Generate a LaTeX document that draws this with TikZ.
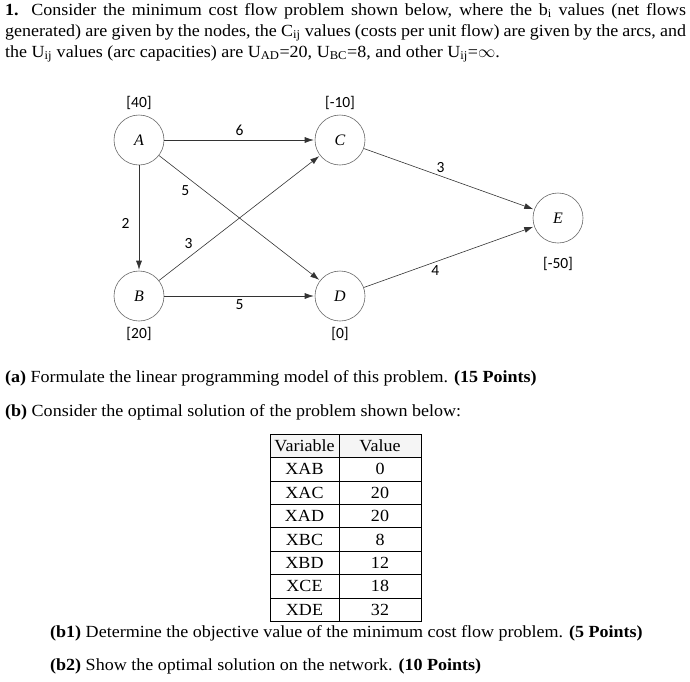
\documentclass[tikz,border=0pt]{standalone}
\usepackage{fontspec}
\setmainfont{Liberation Serif}[FakeStretch=1.06]
\newfontfamily\labelfont{Carlito}
\newfontfamily\letrafont{Liberation Serif}
\usepackage{tikz}
\usetikzlibrary{arrows.meta, positioning}
\tikzset{
    vertex/.style={circle, draw=black!60, semithick, minimum size=50pt, inner sep=0pt, font=\fontsize{16}{16}\letrafont\itshape},
    arco/.style={draw=black!80, semithick, -{Latex[length=9pt,width=6pt]}, shorten >=1pt},
    custo/.style={font=\fontsize{15.5}{15}\labelfont},
    oferta/.style={font=\fontsize{15.5}{15}\labelfont},
    texto/.style={anchor=west, inner sep=0pt, font=\fontsize{17}{21}\selectfont},
    celula/.style={font=\fontsize{17}{17}\selectfont}
}

\begin{document}
\begin{tikzpicture}[x=1pt, y=-1pt]
    \useasboundingbox (0,0) rectangle (690,681);
    % enunciado
    \node[anchor=north west, inner sep=0pt, text width=681pt, align=justify,
          font=\fontsize{17}{21}\selectfont] (enunc) at (5,3)
        {\textbf{1.} Consider the minimum cost flow problem shown below, where the b\textsubscript{i} values (net flows\linebreak
         generated) are given by the nodes, the C\textsubscript{ij} values (costs per unit flow) are given by the arcs, and\linebreak
         the U\textsubscript{ij} values (arc capacities) are U\textsubscript{AD}=20, U\textsubscript{BC}=8, and other U\textsubscript{ij}=$\infty$.};

    % rede
    \node[vertex] (A) at (139,140) {A};
    \node[vertex] (C) at (340,140) {C};
    \node[vertex] (B) at (139,296) {B};
    \node[vertex] (D) at (340,296) {D};
    \node[vertex] (E) at (558,218) {E};
    \node[oferta, above=2pt of A] (bA) {[40]};
    \node[oferta, above=2pt of C] (bC) {[-10]};
    \node[oferta, below=2pt of B] (bB) {[20]};
    \node[oferta, below=2pt of D] (bD) {[0]};
    \node[oferta, below=10pt of E] (bE) {[-50]};
    \draw[arco] (A) -- node[custo, above=1pt] {6} (C);
    \draw[arco] (A) -- node[custo, left=6pt, pos=0.55] {2} (B);
    \draw[arco] (A) -- node[custo, below left, pos=0.21] {5} (D);
    \draw[arco] (B) -- node[custo, above left, pos=0.23] {3} (C);
    \draw[arco] (B) -- node[custo, below] {5} (D);
    \draw[arco] (C) -- node[custo, above, pos=0.45] {3} (E);
    \draw[arco] (D) -- node[custo, below, pos=0.42] {4} (E);

    % itens
    \node[texto] (pa) at (5,378) {\textbf{(a)} Formulate the linear programming model of this problem. \textbf{(15 Points)}};
    \node[texto] (pb) at (5,412) {\textbf{(b)} Consider the optimal solution of the problem shown below:};

    % tabela
    \fill[gray!8] (270,434) rectangle (421,457.4);
    \draw[thick] (270,434) rectangle (421,621);
    \draw (339,434) -- (339,621);
    \foreach \i in {1,...,7} \draw (270,434+\i*23.4) -- (421,434+\i*23.4);
    \node[celula] (h1) at (304.5,446) {Variable};
    \node[celula] (h2) at (380,446) {Value};
    \foreach \v/\x [count=\i] in {XAB/0, XAC/20, XAD/20, XBC/8, XBD/12, XCE/18, XDE/32} {
        \node[celula] (v\i) at (304.5,446+\i*23.4) {\v};
        \node[celula] (x\i) at (380,446+\i*23.4) {\x};
    }

    \node[texto] (pb1) at (50,633) {\textbf{(b1)} Determine the objective value of the minimum cost flow problem. \textbf{(5 Points)}};
    \node[texto] (pb2) at (50,666) {\textbf{(b2)} Show the optimal solution on the network. \textbf{(10 Points)}};
\end{tikzpicture}
\end{document}
